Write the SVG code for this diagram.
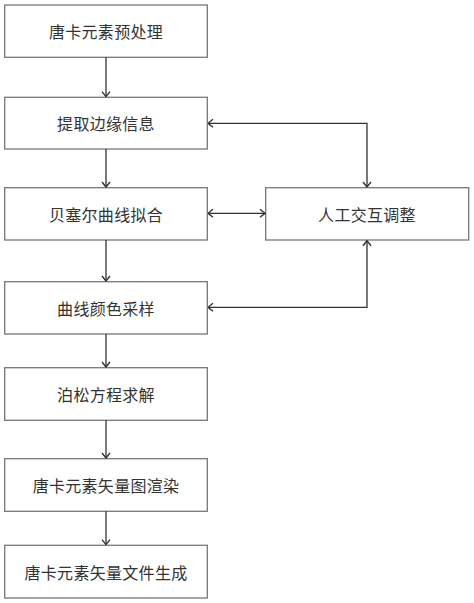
<svg xmlns="http://www.w3.org/2000/svg" width="474" height="603" viewBox="0 0 474 603">
<style>
.box{fill:#fff;stroke:#777;stroke-width:1.3}
.lbl{font-family:"Noto Sans CJK SC",sans-serif;font-size:16px;fill:#333;text-anchor:middle;dominant-baseline:central;letter-spacing:0.3px}
.con{fill:none;stroke:#333;stroke-width:1.3}
</style>
<defs>
<marker id="ah" viewBox="0 0 10 10" refX="9.5" refY="5" markerWidth="10" markerHeight="10" markerUnits="userSpaceOnUse" orient="auto-start-reverse">
<path d="M4.5,1 L9.5,5 L4.5,9" fill="none" stroke="#333" stroke-width="1.4"/>
</marker>
</defs>
<rect width="474" height="603" fill="#fff"/>
<g id="n1"><rect class="box" x="4.7" y="5" width="202.6" height="52.3"/><text class="lbl" x="106" y="31.2">唐卡元素预处理</text></g>
<g id="n2"><rect class="box" x="4.7" y="97.3" width="202.6" height="51.7"/><text class="lbl" x="106" y="123.2">提取边缘信息</text></g>
<g id="n3"><rect class="box" x="4.7" y="187.7" width="202.6" height="52.3"/><text class="lbl" x="106" y="213.8">贝塞尔曲线拟合</text></g>
<g id="n8"><rect class="box" x="265.7" y="187.7" width="203" height="52.3"/><text class="lbl" x="367" y="213.8">人工交互调整</text></g>
<g id="n4"><rect class="box" x="4.7" y="281.7" width="202.6" height="52.3"/><text class="lbl" x="106" y="307.8">曲线颜色采样</text></g>
<g id="n5"><rect class="box" x="4.7" y="367.7" width="202.6" height="52.6"/><text class="lbl" x="106" y="394">泊松方程求解</text></g>
<g id="n6"><rect class="box" x="4.7" y="458.7" width="202.6" height="52.6"/><text class="lbl" x="106" y="485">唐卡元素矢量图渲染</text></g>
<g id="n7"><rect class="box" x="4.7" y="545.3" width="202.6" height="52.7"/><text class="lbl" x="106" y="571.7">唐卡元素矢量文件生成</text></g>
<g id="connectors">
<line class="con" x1="106" y1="57.3" x2="106" y2="96.6" marker-end="url(#ah)"/>
<line class="con" x1="106" y1="149" x2="106" y2="187" marker-end="url(#ah)"/>
<line class="con" x1="106" y1="240" x2="106" y2="281" marker-end="url(#ah)"/>
<line class="con" x1="106" y1="334" x2="106" y2="367" marker-end="url(#ah)"/>
<line class="con" x1="106" y1="420.3" x2="106" y2="458" marker-end="url(#ah)"/>
<line class="con" x1="106" y1="511.3" x2="106" y2="544.6" marker-end="url(#ah)"/>
<polyline class="con" points="208,123.3 367,123.3 367,187" marker-start="url(#ah)" marker-end="url(#ah)"/>
<line class="con" x1="208" y1="213.3" x2="265" y2="213.3" marker-start="url(#ah)" marker-end="url(#ah)"/>
<polyline class="con" points="208,307.3 367,307.3 367,240.7" marker-start="url(#ah)" marker-end="url(#ah)"/>
</g>
</svg>
